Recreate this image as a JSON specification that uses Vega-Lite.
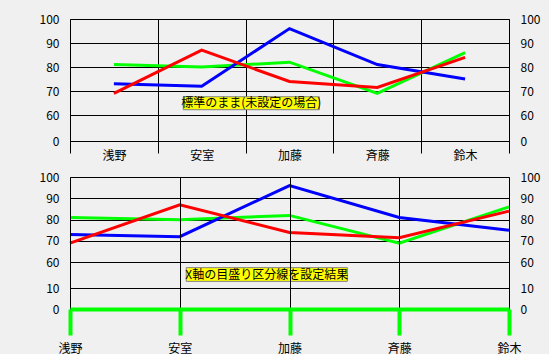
{
  "$schema": "https://vega.github.io/schema/vega-lite/v6.json",
  "background": "#F0F0F0",
  "padding": {"left": 0, "top": 13, "right": 0, "bottom": 0},
  "spacing": 10,
  "config": {
    "view": {"stroke": null},
    "font": "Noto Sans CJK JP",
    "axis": {"labelFont": "Noto Sans CJK JP", "labelColor": "black", "labelFontSize": 12, "title": null, "labelOverlap": false}
  },
  "datasets": {
    "scores": [
      {"name": "浅野", "series": "系列3", "value": 81},
      {"name": "安室", "series": "系列3", "value": 80},
      {"name": "加藤", "series": "系列3", "value": 82},
      {"name": "斉藤", "series": "系列3", "value": 69},
      {"name": "鈴木", "series": "系列3", "value": 86},
      {"name": "浅野", "series": "系列1", "value": 73},
      {"name": "安室", "series": "系列1", "value": 72},
      {"name": "加藤", "series": "系列1", "value": 96},
      {"name": "斉藤", "series": "系列1", "value": 81},
      {"name": "鈴木", "series": "系列1", "value": 75},
      {"name": "浅野", "series": "系列2", "value": 69},
      {"name": "安室", "series": "系列2", "value": 87},
      {"name": "加藤", "series": "系列2", "value": 74},
      {"name": "斉藤", "series": "系列2", "value": 71.5},
      {"name": "鈴木", "series": "系列2", "value": 84}
    ],
    "noteTop": [
      {"text": "標準のまま(未設定の場合)", "x1": 1.29, "x2": 2.84, "y1": 62.2, "y2": 67.6, "xc": 2.065, "yc": 64.9}
    ],
    "noteBottom": [
      {"text": "X軸の目盛り区分線を設定結果", "x1": 1.059, "x2": 2.527, "y1": 22.9, "y2": 49.6, "xc": 1.793, "yc": 36}
    ]
  },
  "vconcat": [
    {
      "width": 439,
      "height": 122,
      "layer": [
        {
          "data": {"name": "scores"},
          "mark": {"type": "line", "strokeWidth": 3},
          "encoding": {
            "x": {
              "field": "name", "type": "nominal",
              "sort": ["浅野", "安室", "加藤", "斉藤", "鈴木"],
              "scale": {"type": "band", "paddingInner": 0, "paddingOuter": 0},
              "axis": {
                "tickBand": "extent", "grid": true, "gridColor": "black", "gridOpacity": 1,
                "tickColor": "black", "tickSize": 12, "domainColor": "black",
                "labelAngle": 0, "labelPadding": -3, "labelBaseline": "top",
                "minExtent": 20, "maxExtent": 20
              }
            },
            "y": {
              "field": "value", "type": "quantitative",
              "scale": {"domain": [0, 60, 100], "range": [122, 96, 0], "nice": false, "zero": false},
              "axis": {
                "values": [0, 60, 70, 80, 90, 100], "grid": true, "gridColor": "black", "gridOpacity": 1,
                "ticks": false, "domainColor": "black", "labelPadding": 11, "labelOverlap": false,
                "minExtent": 70, "maxExtent": 70
              }
            },
            "color": {
              "field": "series", "type": "nominal",
              "scale": {"domain": ["系列1", "系列2", "系列3"], "range": ["#0000FF", "#FF0000", "#00FF00"]},
              "legend": null
            }
          }
        },
        {
          "data": {"name": "noteTop"},
          "mark": {"type": "rect", "fill": "#FFFF00", "stroke": "#808080", "strokeWidth": 1},
          "encoding": {
            "x": {"field": "x1", "type": "quantitative", "scale": {"domain": [0, 5], "nice": false, "zero": false}, "axis": null},
            "x2": {"field": "x2"},
            "y": {"field": "y1", "type": "quantitative", "axis": null},
            "y2": {"field": "y2"}
          }
        },
        {
          "data": {"name": "noteTop"},
          "mark": {"type": "text", "fontSize": 12, "color": "black", "baseline": "middle", "align": "center"},
          "encoding": {
            "x": {"field": "xc", "type": "quantitative", "scale": {"domain": [0, 5], "nice": false, "zero": false}, "axis": null},
            "y": {"field": "yc", "type": "quantitative",
              "axis": {
                "orient": "right", "values": [0, 60, 70, 80, 90, 100], "grid": false,
                "ticks": false, "domainColor": "black", "labelPadding": 11,
                "labelOverlap": false, "minExtent": 40, "maxExtent": 40
              }},
            "text": {"field": "text"}
          }
        }
      ],
      "resolve": {"scale": {"x": "independent"}, "axis": {"y": "independent", "x": "independent"}}
    },
    {
      "width": 439,
      "height": 132,
      "layer": [
        {
          "data": {"name": "scores"},
          "mark": {"type": "line", "strokeWidth": 3},
          "encoding": {
            "x": {
              "field": "name", "type": "nominal",
              "sort": ["浅野", "安室", "加藤", "斉藤", "鈴木"],
              "scale": {"type": "point", "padding": 0},
              "axis": {
                "grid": true, "gridColor": "black", "gridOpacity": 1,
                "tickColor": "#00FF00", "tickWidth": 4, "tickSize": 26,
                "domainColor": "#00FF00", "domainWidth": 4, "zindex": 1,
                "labelAngle": 0, "labelPadding": 8, "labelBaseline": "top"
              }
            },
            "y": {
              "field": "value", "type": "quantitative",
              "scale": {"domain": [0, 10, 60, 100], "range": [132, 111, 85.3, 0], "nice": false, "zero": false},
              "axis": {
                "values": [0, 10, 60, 70, 80, 90, 100], "grid": true, "gridColor": "black", "gridOpacity": 1,
                "ticks": false, "domainColor": "black", "labelPadding": 11, "labelOverlap": false,
                "minExtent": 70, "maxExtent": 70
              }
            },
            "color": {
              "field": "series", "type": "nominal",
              "scale": {"domain": ["系列1", "系列2", "系列3"], "range": ["#0000FF", "#FF0000", "#00FF00"]},
              "legend": null
            }
          }
        },
        {
          "data": {"name": "noteBottom"},
          "mark": {"type": "rect", "fill": "#FFFF00", "stroke": "#808080", "strokeWidth": 1},
          "encoding": {
            "x": {"field": "x1", "type": "quantitative", "scale": {"domain": [0, 4], "nice": false, "zero": false}, "axis": null},
            "x2": {"field": "x2"},
            "y": {"field": "y1", "type": "quantitative", "axis": null},
            "y2": {"field": "y2"}
          }
        },
        {
          "data": {"name": "noteBottom"},
          "mark": {"type": "text", "fontSize": 12, "color": "black", "baseline": "middle", "align": "center"},
          "encoding": {
            "x": {"field": "xc", "type": "quantitative", "scale": {"domain": [0, 4], "nice": false, "zero": false}, "axis": null},
            "y": {"field": "yc", "type": "quantitative",
              "axis": {
                "orient": "right", "values": [0, 10, 60, 70, 80, 90, 100], "grid": false,
                "ticks": false, "domainColor": "black", "labelPadding": 11,
                "labelOverlap": false, "minExtent": 40, "maxExtent": 40
              }},
            "text": {"field": "text"}
          }
        }
      ],
      "resolve": {"scale": {"x": "independent"}, "axis": {"y": "independent", "x": "independent"}}
    }
  ]
}
